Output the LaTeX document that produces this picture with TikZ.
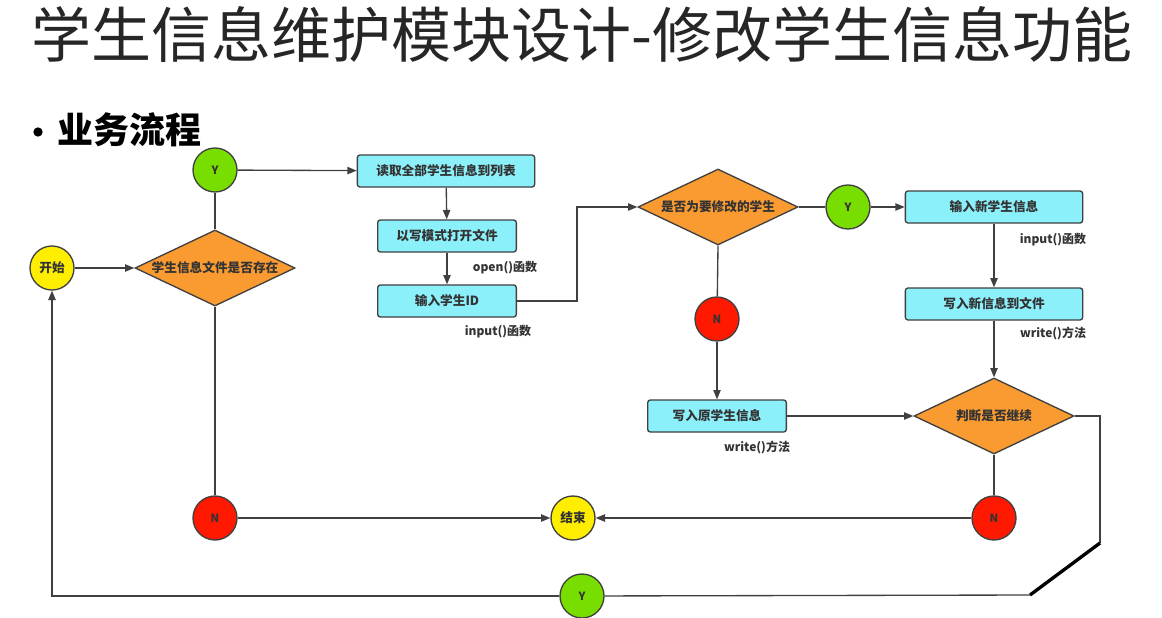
\documentclass[tikz,border=0pt]{standalone}
\usepackage{fontspec}
\setmainfont{Noto Sans CJK SC}
\usetikzlibrary{arrows.meta,shapes.geometric}
\definecolor{linegrey}{RGB}{64,64,64}
\definecolor{boxcyan}{RGB}{140,240,250}
\definecolor{decorange}{RGB}{250,155,50}
\definecolor{yesgreen}{RGB}{120,222,0}
\definecolor{nored}{RGB}{255,25,0}
\definecolor{termyellow}{RGB}{255,238,0}
\tikzset{
  base/.style={font=\bfseries\fontsize{9.5}{11}\selectfont, align=center, inner sep=0pt, text=black!80},
  box/.style={base, rectangle, rounded corners=2pt, draw=linegrey, fill=boxcyan, line width=1pt, minimum height=24pt, minimum width=104pt},
  widebox/.style={box, minimum width=133pt},
  dec/.style={diamond, draw=linegrey, fill=decorange, line width=1pt, minimum width=120pt, minimum height=57pt, inner sep=0pt},
  dectext/.style={base},
  term/.style={base, circle, draw=linegrey, fill=termyellow, line width=1pt, minimum size=33pt},
  yes/.style={term, fill=yesgreen, font=\bfseries\fontsize{8.5}{10}\selectfont},
  no/.style={yes, fill=nored},
  note/.style={base, font=\bfseries\fontsize{9}{11}\selectfont},
  arr/.style={-{Triangle[length=7pt,width=5.5pt]}, line width=1pt, draw=linegrey},
  ln/.style={line width=1pt, draw=linegrey},
}
\begin{document}
\begin{tikzpicture}[x=0.75pt,y=-0.75pt]
  \useasboundingbox[fill=white] (0,0) rectangle (1162,617);
  % heading
  \node[font=\fontsize{45}{50}\selectfont, text=black!85] (title) at (582,35) {学生信息维护模块设计-修改学生信息功能};
  \node[circle, fill=black, inner sep=0pt, minimum size=7pt] (dot) at (38,132) {};
  \node[font=\bfseries\fontsize{27}{30}\selectfont, anchor=west, inner sep=0pt] (sec) at (57,130) {业务流程};
  % left part
  \node[term] (start) at (52,268) {开始};
  \node[dec, label={[dectext]center:学生信息文件是否存在}] (exist) at (215,268) {};
  \node[yes] (y1) at (215,170) {Y};
  \node[no] (n1) at (215,518) {N};
  \node[term] (stop) at (573,518) {结束};
  \node[widebox] (readall) at (446,171) {读取全部学生信息到列表};
  \node[box] (openw) at (447,236) {以写模式打开文件};
  \node[box] (inid) at (447,301) {输入学生ID};
  \node[note] at (505,268) {open()函数};
  \node[note] at (498,332) {input()函数};
  % right part
  \node[dec, label={[dectext]center:是否为要修改的学生}] (match) at (718,207) {};
  \node[yes] (y2) at (848,207) {Y};
  \node[no] (n2) at (717,319) {N};
  \node[widebox] (newinfo) at (994,207) {输入新学生信息};
  \node[widebox] (writenew) at (994,304) {写入新信息到文件};
  \node[box] (writeold) at (717,416) {写入原学生信息};
  \node[dec, label={[dectext]center:判断是否继续}] (cont) at (994,416) {};
  \node[no] (n3) at (994,518) {N};
  \node[yes] (y3) at (582,596) {Y};
  \node[note] at (1053,240) {input()函数};
  \node[note] at (1053,333) {write()方法};
  \node[note] at (757,447) {write()方法};
  \coordinate (jog) at (577,301);
  \coordinate (kneea) at (1100,543);
  \coordinate (kneeb) at (1030,595);
  % connectors
  \draw[arr] (start) -- (exist);
  \draw[ln] (exist.north) -- (y1);
  \draw[arr] (y1) -- (readall);
  \draw[ln] (exist.south) -- (n1);
  \draw[arr] (n1) -- (stop);
  \foreach \a/\b in {readall/openw,openw/inid,newinfo/writenew,n2/writeold}{\draw[arr] (\a) -- (\b);}
  \draw[arr] (writenew) -- (cont.north);
  \draw[arr] (inid.east) -- (jog) |- (match.west);
  \draw[ln] (match.east) -- (y2);
  \draw[arr] (y2) -- (newinfo);
  \draw[ln] (match.south) -- (n2);
  \draw[arr] (writeold) -- (cont.west);
  \draw[ln] (cont.south) -- (n3);
  \draw[arr] (n3) -- (stop);
  \draw[ln] (cont.east) -| (kneea);
  \draw[line width=2.5pt] (kneea) -- (kneeb);
  \draw[ln] (kneeb) -- (y3);
  \draw[arr] (y3) -| (start.south);
\end{tikzpicture}
\end{document}
